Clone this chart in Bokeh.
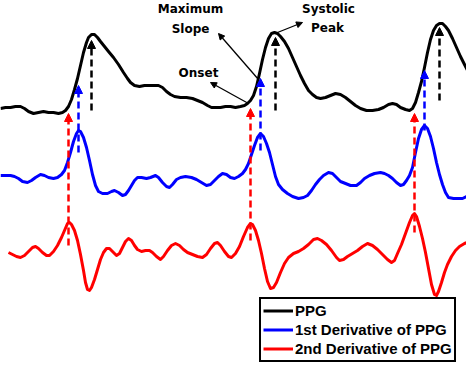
from bokeh.plotting import figure
from bokeh.models import ColumnDataSource, Arrow, NormalHead, Legend, LegendItem, Range1d
from bokeh.core.properties import value
from bokeh.embed import file_html
from bokeh.resources import INLINE

# ---- data (time in px-like units, amplitude in px-like units, inverted) ----
ppg_t = [0, 5, 10, 15, 20, 24, 28, 33, 38, 43, 48, 53, 58, 62, 65, 68, 71, 74, 77, 80, 83, 86,
         88, 91, 94, 97, 100, 104, 108, 113, 118, 123, 127, 130, 134, 139, 144, 149, 154, 158,
         162, 166, 170, 174, 180, 186, 192, 197, 202, 207, 211, 215, 220, 225, 230, 235, 240,
         244, 247, 250, 253, 256, 259, 262, 265, 268, 271, 274, 277, 280, 284, 288, 292, 296,
         300, 304, 308, 312, 316, 320, 325, 330, 335, 340, 345, 350, 355, 360, 366, 372, 378,
         383, 388, 392, 396, 400, 405, 409, 412, 415, 418, 421, 424, 427, 430, 433, 436, 439,
         442, 445, 448, 452, 456, 460, 464, 468, 471, 474]
ppg_v = [108, 107, 107, 106, 106, 108, 111, 113, 112, 111, 112, 112, 113, 112, 110, 106, 99, 89,
         78, 65, 52, 42, 37, 34, 34, 37, 41, 46, 51, 57, 64, 72, 78, 82, 85, 86, 85, 85, 85, 85,
         87, 91, 94, 96, 97, 97, 98, 100, 102, 105, 107, 107, 107, 106, 106, 107, 106,
         105, 103, 100, 95, 86, 73, 59, 47, 38, 33, 32, 33, 36, 41, 48, 57, 66,
         75, 83, 90, 94, 97, 98, 97, 95, 93, 94, 97, 101, 105, 108, 110, 110, 109,
         107, 104, 103, 104, 107, 109, 110, 108, 102, 92, 81, 67, 52, 39, 30, 25, 23,
         23, 26, 30, 38, 47, 56, 64, 72, 77, 80]

d1_t = [0, 5, 10, 14, 18, 22, 27, 31, 35, 40, 44, 48, 53, 57, 61, 64, 67, 70, 73, 76, 78, 80,
        83, 86, 89, 92, 95, 98, 102, 107, 111, 114, 118, 122, 125, 128, 131, 134, 137, 141,
        146, 150, 155, 158, 162, 166, 169, 172, 176, 180, 185, 191, 196, 201, 206, 210, 214,
        218, 222, 226, 230, 234, 238, 242, 245, 248, 251, 254, 257, 260, 263, 266, 269, 272,
        275, 278, 282, 287, 292, 298, 303, 307, 311, 315, 319, 323, 328, 332, 336, 340, 345,
        350, 356, 360, 364, 369, 374, 380, 384, 388, 392, 396, 400, 403, 406, 409, 412, 415,
        418, 421, 424, 427, 430, 433, 436, 439, 442, 445, 448, 453, 458, 462, 466, 470, 474]
d1_v = [175, 175, 175, 176, 178, 181, 182, 180, 177, 174, 175, 177, 178, 177, 174, 170, 162, 152,
        141, 133, 130, 131, 137, 147, 160, 174, 185, 191, 193, 193, 191, 190, 192, 195, 194, 190,
        185, 180, 177, 177, 178, 177, 175, 177, 182, 186, 187, 184, 179, 177, 176, 177, 179, 182,
        185, 184, 180, 176, 173, 174, 177, 178, 176, 173, 169, 163, 154, 145, 137, 133, 136, 143,
        152, 164, 176, 184, 189, 193, 196, 198, 197, 195, 190, 184, 179, 175, 172, 173, 177, 181,
        183, 185, 185, 182, 178, 175, 173, 172, 173, 175, 178, 182, 185, 184, 180, 175, 167, 152,
        138, 129, 125, 128, 136, 148, 162, 174, 184, 192, 197, 198, 198, 198, 196, 192, 187]

d2_t = [8, 12, 16, 20, 24, 28, 32, 35, 38, 42, 46, 49, 53, 57, 61, 64, 67, 69, 71, 74, 77, 80,
        83, 85, 87, 89, 91, 94, 97, 100, 103, 106, 109, 113, 116, 119, 122, 125, 128, 131, 134,
        137, 141, 145, 149, 152, 156, 160, 163, 167, 171, 175, 179, 183, 187, 192, 197, 202,
        206, 210, 214, 217, 220, 224, 228, 231, 235, 239, 243, 247, 250, 252, 255, 258, 261,
        264, 267, 270, 273, 276, 280, 284, 288, 293, 298, 303, 308, 313, 317, 321, 326, 331,
        336, 339, 343, 347, 352, 357, 362, 367, 372, 377, 382, 387, 391, 394, 397, 401, 405,
        409, 412, 414, 416, 419, 422, 425, 428, 431, 434, 436, 438, 441, 444, 447, 451, 455,
        459, 464, 469, 474]
d2_v = [252, 254, 256, 257, 255, 251, 247, 246, 248, 252, 255, 255, 251, 245, 237, 230, 223, 222,
        224, 230, 240, 254, 270, 282, 289, 290, 287, 279, 269, 259, 252, 248, 248, 252, 255, 253,
        247, 241, 238, 240, 245, 249, 251, 250, 250, 252, 256, 259, 256, 250, 245, 243, 245, 249,
        252, 254, 256, 257, 254, 248, 243, 242, 245, 251, 256, 257, 253, 246, 236, 227, 223, 224,
        230, 240, 253, 268, 281, 288, 287, 282, 272, 263, 257, 253, 251, 248, 244, 239, 238, 240,
        244, 250, 257, 260, 259, 256, 253, 250, 246, 243, 245, 249, 254, 259, 262, 260, 253, 244,
        233, 222, 215, 213, 216, 226, 238, 252, 268, 284, 294, 295, 291, 282, 272, 264, 256, 250,
        246, 243, 241, 240]

# marker arrows: time, base, tip
peak_t = [91, 275, 439]
peak_base = [110, 110, 100]
peak_tip = [40, 37, 27]
slope_t = [78, 260, 424]
slope_base = [152, 150, 130]
slope_tip = [85, 78, 70]
onset_t = [68, 250, 414]
onset_base = [245, 240, 232]
onset_tip = [113, 108, 113]

labels = ["Maximum", "Slope", "Systolic", "Peak", "Onset"]
label_x = [190, 190, 328, 327, 198]
label_y = [8, 28, 8, 27, 72]

call_x0 = [258, 248, 277]
call_y0 = [79, 103, 32]
call_x1 = [218, 210, 302]
call_y1 = [33, 82, 22]

legend_labels = ["PPG", "1st Derivative of PPG", "2nd Derivative of PPG"]

BLUE = "#0000ff"
RED = "#ff0000"

p = figure(width=466, height=363, x_range=Range1d(0, 466), y_range=Range1d(363, 0),
           output_backend="svg", toolbar_location=None, min_border=0,
           x_axis_type=None, y_axis_type=None)
p.grid.visible = False
p.outline_line_color = None

r0 = p.line(ppg_t, ppg_v, line_width=3, color="black", line_join="round")
r1 = p.line(d1_t, d1_v, line_width=3, color=BLUE, line_join="round")
r2 = p.line(d2_t, d2_v, line_width=3, color=RED, line_join="round")

for ts, bs, tips, col in [(peak_t, peak_base, peak_tip, "black"),
                          (slope_t, slope_base, slope_tip, BLUE),
                          (onset_t, onset_base, onset_tip, RED)]:
    src = ColumnDataSource(dict(x=ts, y0=bs, y1=tips))
    p.add_layout(Arrow(source=src, x_start="x", y_start="y0", x_end="x", y_end="y1",
                       line_color=col, line_width=2.5, line_dash="7 4",
                       end=NormalHead(size=8, fill_color=col, line_color=col, line_width=1)))

csrc = ColumnDataSource(dict(x0=call_x0, y0=call_y0, x1=call_x1, y1=call_y1))
p.add_layout(Arrow(source=csrc, x_start="x0", y_start="y0", x_end="x1", y_end="y1",
                   line_color="black", line_width=1.3,
                   end=NormalHead(size=6, fill_color="black", line_color="black", line_width=1)))

tsrc = ColumnDataSource(dict(x=label_x, y=label_y, t=labels))
p.text(x="x", y="y", text="t", source=tsrc, text_font=value("DejaVu Sans"),
       text_font_style="bold", text_font_size="12px", text_align="center",
       text_baseline="middle", text_color="black")

legend = Legend(items=[LegendItem(label=legend_labels[0], renderers=[r0]),
                       LegendItem(label=legend_labels[1], renderers=[r1]),
                       LegendItem(label=legend_labels[2], renderers=[r2])],
                location=(259, 1), margin=0, padding=2, spacing=0,
                label_height=19, glyph_height=19, glyph_width=30, label_standoff=2,
                label_text_font="Liberation Sans", label_text_font_style="bold",
                label_text_font_size="15px", label_text_color="black",
                border_line_color="black", border_line_alpha=1.0,
                border_line_width=2, background_fill_alpha=1)
p.add_layout(legend)

open("out.html", "w").write(file_html(p, INLINE))
